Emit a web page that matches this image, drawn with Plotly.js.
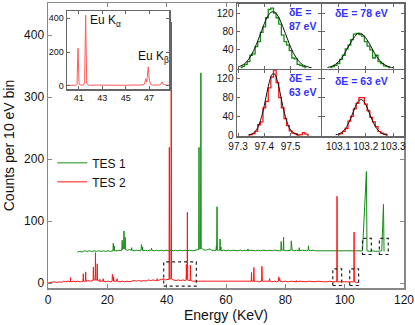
<!DOCTYPE html>
<html><head><meta charset="utf-8">
<script src="https://cdn.plot.ly/plotly-3.0.1.min.js"></script>
<style>html,body{margin:0;padding:0;background:#fff}#chart{width:415px;height:325px}</style>
</head><body><div id="chart"></div>
<script>
// ---- Main spectra (energy in keV, counts per 10 eV bin) ----
const tes2Energy = [0,1,2,3,4,4.6,5.2,6,6.8,7.5,7.6,7.7,8.5,9.3,10.1,10.9,11.8,11.9,12.0,12.6,12.7,12.8,13.5,14.3,15.2,15.3,15.4,15.9,16.0,16.1,16.5,16.6,16.7,17.4,17.5,17.6,18.5,18.6,18.7,19.5,20.3,21.1,21.6,21.7,21.8,22.0,22.1,22.2,23.2,23.3,23.4,24.2,25.0,25.8,26.6,27.4,28.2,29.0,29.8,30.6,31.4,32.2,33.0,33.8,34.6,35.4,36.2,36.7,36.8,36.9,37.6,38.3,38.8,38.9,39.5,40.2,40.8,40.9,41.0,41.44,41.54,41.64,42.3,43.1,43.9,44.7,45.5,46.2,46.55,46.65,46.75,46.88,46.98,47.08,47.5,47.9,48.0,48.1,48.8,49.6,50.4,51.2,52.0,53.0,54.0,55.0,56.0,57.0,58.0,59.0,60.0,61.0,62.0,63.0,64.0,65.0,66.0,67.0,68.0,68.5,68.6,68.7,69.3,69.4,69.5,70.2,71.0,72.0,72.1,72.2,72.3,73.0,73.8,74.6,74.7,74.8,75.5,76.3,77.0,77.7,77.8,77.9,78.1,78.2,79.0,80.0,81.0,82.0,83.0,83.6,83.7,83.8,85.0,86.0,87.0,88.0,89.0,90.0,91.0,92.0,93.0,94.0,95.0,96.0,97.33,97.43,97.53,98.5,99.5,100.5,101.5,102.5,103.08,103.18,103.28,104.0,104.8];
const tes2Counts = [0,1,2,1,2,1,3,2,3,2,9,2,3,2,3,2,3,15,3,3,18,3,4,3,4,26,5,5,49,5,5,31,4,3,6,3,3,7,3,2,3,2,3,14,3,3,10,3,3,7,3,2,3,2,3,2,3,4,3,4,3,4,3,5,4,5,4,4,7,4,5,6,5,8,5,6,6,219,7,7,421,7,5,4,5,4,5,4,5,30,6,6,114,5,4,4,29,4,3,3,2,3,2,3,2,3,2,3,2,3,2,3,2,2,3,2,3,2,3,3,17,3,3,25,3,3,2,3,27,12,3,3,2,3,7,3,2,3,2,3,10,4,7,3,2,3,2,3,2,2,4,2,3,2,2,3,2,2,3,2,2,2,3,2,2,140,2,2,2,2,1,2,2,82,2,1,1];

const tes1Energy = [9.9,10.7,11.5,12.3,13.1,13.9,14.7,15.5,16.3,17.1,17.9,18.7,19.5,20.3,21.1,21.9,22.0,22.1,22.2,22.3,22.4,23.2,24.0,24.9,25.0,25.1,25.5,25.6,25.7,25.9,26.0,26.1,26.8,27.5,28.1,28.2,28.3,29.1,29.9,30.7,31.4,31.5,31.6,31.8,31.9,32.0,32.8,33.6,34.4,34.8,34.9,35.0,35.8,36.6,37.4,38.2,39.0,39.8,40.6,41.4,42.2,43.0,43.8,44.6,45.4,46.2,47.0,47.8,48.6,49.4,50.2,50.8,50.9,51.0,51.44,51.54,51.64,52.3,53.1,53.9,54.5,55.2,56.0,56.65,56.75,56.85,56.98,57.08,57.9,58.0,58.1,58.2,58.3,58.4,59.2,60.0,60.8,61.6,62.4,63.2,64.0,64.8,65.6,66.4,67.2,67.4,67.6,68.4,69.2,70.0,70.8,71.6,72.4,73.2,74.0,74.8,75.6,76.4,77.2,78.0,78.5,78.6,78.7,79.3,79.4,79.5,80.3,81.1,81.9,82.0,82.1,82.2,82.3,83.0,83.8,84.6,84.7,84.8,85.6,86.4,87.2,87.7,87.8,87.9,88.6,89.4,90.2,91.0,92.0,93.0,94.0,95.0,96.0,97.0,98.0,99.0,100.0,101.0,102.0,103.0,104.0,105.0,106.0,107.33,107.43,107.53,108.5,109.5,110.5,111.5,112.5,113.08,113.18,113.28,114.0];
const tes1Counts = [50,51,50,52,51,52,51,52,51,52,51,52,51,52,51,52,64,52,52,60,52,52,53,53,69,54,55,84,56,55,74,54,53,54,53,57,53,52,53,52,53,62,53,53,58,52,53,52,53,53,56,53,52,53,52,53,52,53,52,53,52,53,52,53,52,53,52,53,52,53,53,54,219,55,55,339,56,54,53,54,55,53,52,53,60,53,123,53,53,71,53,53,58,52,53,52,53,52,53,52,52,53,52,53,52,55,52,53,52,52,53,52,53,52,52,53,52,53,52,52,52,67,53,53,74,53,52,53,53,68,54,62,53,52,53,52,57,52,53,52,52,53,60,53,52,53,52,52,53,52,52,53,52,52,53,52,52,52,53,52,52,52,52,180,52,52,51,52,51,52,52,127,52,51];

// ---- Eu K-line inset (TES 2) ----
const euEnergy = [40.0,40.3,40.5,40.7,40.85,40.94,41.03,41.2,41.4,41.5,41.59,41.68,41.8,42.0,42.5,43.0,43.5,44.0,44.5,45.0,45.5,46.0,46.4,46.6,46.72,46.8,46.93,47.03,47.15,47.4,47.7,47.9,48.02,48.12,48.22,48.4,48.7];
const euCounts = [4,3,5,4,8,223,10,5,6,20,418,15,6,4,5,4,3,5,4,4,5,5,6,10,42,22,113,30,8,5,4,6,12,25,8,5,4];

// ---- Line-shape insets: histograms (10 eV bins) and Gaussian fits ----
const tes1PeakABins = [97.31,97.32,97.33,97.34,97.35,97.36,97.37,97.38,97.39,97.40,97.41,97.42,97.43,97.44,97.45,97.46,97.47,97.48,97.49,97.50,97.51,97.52,97.53,97.54,97.55,97.56];
const tes1PeakAHist = [1,4,8,14,28,31,47,58,78,90,110,128,131,120,110,96,72,58,50,38,22,20,8,6,3,1];
const tes1PeakAFitE = [97.30,97.31,97.32,97.33,97.34,97.35,97.36,97.37,97.38,97.39,97.40,97.41,97.42,97.43,97.44,97.45,97.46,97.47,97.48,97.49,97.50,97.51,97.52,97.53,97.54,97.55,97.56,97.57,97.58];
const tes1PeakAFit = [2.6,4.6,7.8,12,19,28,39,52,67,82,97,110,119,123,122,116,105,91,76,61,46,34,24,16,10,6,4,2,1];

const tes1PeakBBins = [103.07,103.08,103.09,103.10,103.11,103.12,103.13,103.14,103.15,103.16,103.17,103.18,103.19,103.20,103.21,103.22,103.23,103.24,103.25,103.26,103.27,103.28,103.29];
const tes1PeakBHist = [1,3,6,10,19,28,42,50,62,74,76,73,70,58,48,40,22,28,14,10,5,3,1];
const tes1PeakBFitE = [103.06,103.07,103.08,103.09,103.10,103.11,103.12,103.13,103.14,103.15,103.16,103.17,103.18,103.19,103.20,103.21,103.22,103.23,103.24,103.25,103.26,103.27,103.28,103.29,103.30];
const tes1PeakBFit = [1.5,2.8,5,8.4,13.5,20.5,29,40,50,61,69,75,76,73,66,57,46,35,25,17.5,11,7,4,2,1];

const tes2PeakABins = [97.34,97.35,97.36,97.37,97.38,97.39,97.40,97.41,97.42,97.43,97.44,97.45,97.46,97.47,97.48,97.49,97.50,97.51,97.52,97.53,97.54,97.55,97.56,97.57];
const tes2PeakAHist = [0,1,3,8,22,28,58,72,101,124,139,112,80,58,35,20,9,4,3,0,1,5,2,0];
const tes2PeakAFitE = [97.34,97.35,97.36,97.37,97.38,97.39,97.40,97.41,97.42,97.43,97.44,97.45,97.46,97.47,97.48,97.49,97.50,97.51,97.52,97.53];
const tes2PeakAFit = [0.5,2,5,11,22,40,63,91,115,130,130,115,91,63,40,22,11,5,2,0.5];

const tes2PeakBBins = [103.10,103.11,103.12,103.13,103.14,103.15,103.16,103.17,103.18,103.19,103.20,103.21,103.22,103.23,103.24,103.25,103.26,103.27,103.28];
const tes2PeakBHist = [1,3,8,14,30,40,56,68,80,80,66,52,38,28,18,8,4,2,0];
const tes2PeakBFitE = [103.09,103.10,103.11,103.12,103.13,103.14,103.15,103.16,103.17,103.18,103.19,103.20,103.21,103.22,103.23,103.24,103.25,103.26,103.27,103.28];
const tes2PeakBFit = [0.8,2,4.8,9.7,17.6,29,43,58,70,75.6,74,65,52,37,24,14,7.4,3.5,1.5,0.5];

const resolutionLabels = ['δE =<br>87 eV', 'δE = 78 eV', 'δE =<br>63 eV', 'δE = 63 eV'];

// ---- styles ----
const GREEN = 'rgb(20,140,20)';
const RED = 'rgb(255,20,20)';
const FONT = 'Liberation Sans, Arial, sans-serif';

const traces = [
  {x: tes1Energy, y: tes1Counts, type: 'scatter', mode: 'lines', name: 'TES 1', line: {color: GREEN, width: 1}, xaxis: 'x', yaxis: 'y'},
  {x: tes2Energy, y: tes2Counts, type: 'scatter', mode: 'lines', name: 'TES 2', line: {color: RED, width: 1}, xaxis: 'x', yaxis: 'y'},
  {x: euEnergy, y: euCounts, type: 'scatter', mode: 'lines', showlegend: false, line: {color: 'rgb(255,90,90)', width: 1}, xaxis: 'x2', yaxis: 'y2'},
  {x: tes1PeakABins, y: tes1PeakAHist, type: 'scatter', mode: 'lines', showlegend: false, line: {color: GREEN, width: 1.3, shape: 'hvh'}, xaxis: 'x3', yaxis: 'y3'},
  {x: tes1PeakAFitE, y: tes1PeakAFit, type: 'scatter', mode: 'lines', showlegend: false, line: {color: '#111', width: 1, shape: 'spline'}, xaxis: 'x3', yaxis: 'y3'},
  {x: tes1PeakBBins, y: tes1PeakBHist, type: 'scatter', mode: 'lines', showlegend: false, line: {color: GREEN, width: 1.3, shape: 'hvh'}, xaxis: 'x4', yaxis: 'y4'},
  {x: tes1PeakBFitE, y: tes1PeakBFit, type: 'scatter', mode: 'lines', showlegend: false, line: {color: '#111', width: 1, shape: 'spline'}, xaxis: 'x4', yaxis: 'y4'},
  {x: tes2PeakABins, y: tes2PeakAHist, type: 'scatter', mode: 'lines', showlegend: false, line: {color: RED, width: 1.3, shape: 'hvh'}, xaxis: 'x5', yaxis: 'y5'},
  {x: tes2PeakAFitE, y: tes2PeakAFit, type: 'scatter', mode: 'lines', showlegend: false, line: {color: '#111', width: 1, shape: 'spline'}, xaxis: 'x5', yaxis: 'y5'},
  {x: tes2PeakBBins, y: tes2PeakBHist, type: 'scatter', mode: 'lines', showlegend: false, line: {color: RED, width: 1.3, shape: 'hvh'}, xaxis: 'x6', yaxis: 'y6'},
  {x: tes2PeakBFitE, y: tes2PeakBFit, type: 'scatter', mode: 'lines', showlegend: false, line: {color: '#111', width: 1, shape: 'spline'}, xaxis: 'x6', yaxis: 'y6'}
];

const frame = (extra) => Object.assign({
  showline: true, linecolor: '#666', linewidth: 1.5, mirror: 'ticks',
  ticks: 'inside', ticklen: 3, tickcolor: '#666', tickwidth: 1, tickangle: 0,
  showgrid: false, zeroline: false, fixedrange: true,
  tickfont: {size: 10, family: FONT, color: '#111'}
}, extra);

const insetYA = [0.7684, 0.9965];
const insetYB = [0.5333, 0.7649];
const insetXL = [0.5309, 0.7669];
const insetXR = [0.7697, 1.0];

const layout = {
  width: 415, height: 325,
  margin: {l: 48, r: 11, t: 3, b: 37},
  paper_bgcolor: '#fff', plot_bgcolor: '#fff',
  font: {family: FONT, size: 12, color: '#111'},
  showlegend: true,
  legend: {x: 0.012, y: 0.49, xanchor: 'left', yanchor: 'top', bgcolor: 'rgba(0,0,0,0)', font: {size: 12, family: FONT}, tracegroupgap: 0},
  xaxis: frame({domain: [0, 1], anchor: 'y', range: [0, 120], tickvals: [0, 20, 40, 60, 80, 100, 120], linecolor: '#888', linewidth: 1.5, ticklen: 4, tickcolor: '#888',
    tickfont: {size: 12, family: FONT, color: '#111'}, title: {text: 'Energy (KeV)', font: {size: 14, family: FONT}, standoff: 4}}),
  yaxis: frame({domain: [0, 1], anchor: 'x', range: [-8, 451.7], tickvals: [0, 100, 200, 300, 400], linecolor: '#888', linewidth: 1.5, ticklen: 4, tickcolor: '#888',
    tickfont: {size: 12, family: FONT, color: '#111'}, title: {text: 'Counts per 10 eV bin', font: {size: 14, family: FONT}, standoff: 6}}),
  xaxis2: frame({domain: [0.0534, 0.3399], anchor: 'y2', range: [40, 48.7], tickvals: [41, 43, 45, 47], tickfont: {size: 9, family: FONT, color: '#111'}}),
  yaxis2: frame({domain: [0.6982, 0.9719], anchor: 'x2', range: [-18, 443], tickvals: [0, 200, 400], tickfont: {size: 9, family: FONT, color: '#111'}}),
  xaxis3: frame({domain: insetXL, anchor: 'y3', range: [97.296, 97.616], tickvals: [97.3, 97.4, 97.5], showticklabels: false}),
  yaxis3: frame({domain: insetYA, anchor: 'x3', range: [-2, 140], tickvals: [0, 40, 80, 120]}),
  xaxis4: frame({domain: insetXR, anchor: 'y4', range: [103.04, 103.34], tickvals: [103.1, 103.2, 103.3], showticklabels: false}),
  yaxis4: frame({domain: insetYA, anchor: 'x4', range: [-2, 140], tickvals: [0, 40, 80, 120], showticklabels: false}),
  xaxis5: frame({domain: insetXL, anchor: 'y5', range: [97.296, 97.616], tickvals: [97.3, 97.4, 97.5]}),
  yaxis5: frame({domain: insetYB, anchor: 'x5', range: [-2, 139], tickvals: [0, 40, 80, 120]}),
  xaxis6: frame({domain: insetXR, anchor: 'y6', range: [103.04, 103.34], tickvals: [103.1, 103.2, 103.3]}),
  yaxis6: frame({domain: insetYB, anchor: 'x6', range: [-2, 139], tickvals: [0, 40, 80, 120], showticklabels: false}),
  shapes: [
    {type: 'rect', xref: 'x', yref: 'y', x0: 39, x1: 50, y0: -5, y1: 34, line: {color: '#222', width: 1.2, dash: 'dot'}},
    {type: 'rect', xref: 'x', yref: 'y', x0: 96, x1: 99, y0: -4, y1: 23, line: {color: '#222', width: 1.2, dash: 'dot'}},
    {type: 'rect', xref: 'x', yref: 'y', x0: 101.7, x1: 104.7, y0: -4, y1: 23, line: {color: '#222', width: 1.2, dash: 'dot'}},
    {type: 'rect', xref: 'x', yref: 'y', x0: 106, x1: 109, y0: 46, y1: 72, line: {color: '#222', width: 1.2, dash: 'dot'}},
    {type: 'rect', xref: 'x', yref: 'y', x0: 111.7, x1: 114.7, y0: 46, y1: 72, line: {color: '#222', width: 1.2, dash: 'dot'}}
  ],
  annotations: [
    {xref: 'x2', yref: 'y2', x: 41.75, y: 386, text: 'Eu K<sub>α</sub>', showarrow: false, xanchor: 'left', yanchor: 'middle', font: {size: 12, family: FONT, color: '#111'}},
    {xref: 'x2', yref: 'y2', x: 45.9, y: 173, text: 'Eu K<sub>β</sub>', showarrow: false, xanchor: 'left', yanchor: 'middle', font: {size: 12, family: FONT, color: '#111'}},
    {xref: 'x3', yref: 'y3', x: 97.545, y: 108, text: '<b>' + resolutionLabels[0] + '</b>', showarrow: false, align: 'left', font: {size: 10.5, family: FONT, color: 'rgb(50,50,255)'}},
    {xref: 'x4', yref: 'y4', x: 103.185, y: 120, text: '<b>' + resolutionLabels[1] + '</b>', showarrow: false, font: {size: 10.5, family: FONT, color: 'rgb(50,50,255)'}},
    {xref: 'x5', yref: 'y5', x: 97.545, y: 107, text: '<b>' + resolutionLabels[2] + '</b>', showarrow: false, align: 'left', font: {size: 10.5, family: FONT, color: 'rgb(50,50,255)'}},
    {xref: 'x6', yref: 'y6', x: 103.185, y: 116, text: '<b>' + resolutionLabels[3] + '</b>', showarrow: false, font: {size: 10.5, family: FONT, color: 'rgb(50,50,255)'}}
  ]
};

Plotly.newPlot('chart', traces, layout, {displayModeBar: false, staticPlot: true});
</script></body></html>
